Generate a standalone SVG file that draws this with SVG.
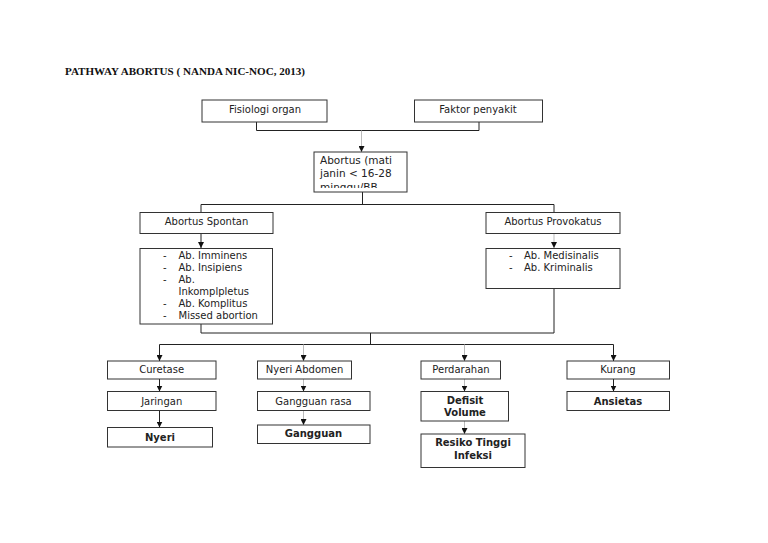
<svg xmlns="http://www.w3.org/2000/svg" width="768" height="543" viewBox="0 0 768 543">
<style>
.box{fill:#fff;stroke:#333;stroke-width:1}
.t{font-family:"DejaVu Sans","Verdana",sans-serif;font-size:10px;fill:#222}
.c{text-anchor:middle}
.b{font-weight:bold}
.ln{fill:none;stroke:#222;stroke-width:1}
.lg{fill:none;stroke:#bbb;stroke-width:1}
.title{font-family:"Liberation Serif","Times New Roman",serif;font-weight:bold;font-size:10.5px;fill:#111}
</style>
<defs>
<marker id="ah" markerUnits="userSpaceOnUse" markerWidth="6" markerHeight="6" viewBox="0 0 6 6" refX="6" refY="3" orient="auto">
<path d="M0,0 L6,3 L0,6 Z" fill="#111"/>
</marker>
<clipPath id="clipAb"><rect x="314" y="152" width="93" height="36"/></clipPath>
</defs>
<rect width="768" height="543" fill="#fff"/>
<text class="title" x="65" y="75" textLength="240" lengthAdjust="spacingAndGlyphs">PATHWAY ABORTUS ( NANDA NIC-NOC, 2013)</text>

<g id="connectors">
<path class="ln" d="M256.5,122 V130.5 H479 V122"/>
<path class="lg" d="M361.5,130.5 V152" marker-end="url(#ah)"/>
<path class="ln" d="M362.5,192 V204.5"/>
<path class="ln" d="M201,212.5 V204.5 H554 V212.5"/>
<path class="ln" d="M201,233.5 V248" marker-end="url(#ah)"/>
<path class="lg" d="M554,233.5 V248" marker-end="url(#ah)"/>
<path class="ln" d="M201,324 V333 H554 V288"/>
<path class="ln" d="M370.5,333 V344.5"/>
<path class="ln" d="M159.5,344.5 H613.5"/>
<path class="ln" d="M159.5,344.5 V361" marker-end="url(#ah)"/>
<path class="lg" d="M303.5,344.5 V361" marker-end="url(#ah)"/>
<path class="lg" d="M464.5,344.5 V361" marker-end="url(#ah)"/>
<path class="ln" d="M613.5,344.5 V361" marker-end="url(#ah)"/>
<path class="ln" d="M159.5,379 V391.5" marker-end="url(#ah)"/>
<path class="ln" d="M159.5,410.5 V427.5" marker-end="url(#ah)"/>
<path class="lg" d="M303.5,379 V391.5" marker-end="url(#ah)"/>
<path class="lg" d="M303.5,410.5 V425" marker-end="url(#ah)"/>
<path class="lg" d="M464.5,379 V391.5" marker-end="url(#ah)"/>
<path class="lg" d="M464.5,421 V434" marker-end="url(#ah)"/>
<path class="ln" d="M613.5,379 V391.5" marker-end="url(#ah)"/>
</g>

<g id="fisiologi">
<rect class="box" x="202" y="100" width="125" height="22"/>
<text class="t c" x="265" y="113">Fisiologi organ</text>
</g>
<g id="faktor">
<rect class="box" x="414.5" y="100" width="128" height="22"/>
<text class="t c" x="478" y="113">Faktor penyakit</text>
</g>
<g id="abortus">
<rect class="box" x="314" y="152" width="93" height="40"/>
<g clip-path="url(#clipAb)">
<text class="t" x="320" y="164" style="font-size:10.5px">Abortus (mati</text>
<text class="t" x="320" y="177.3" style="font-size:10.5px">janin &lt; 16-28</text>
<text class="t" x="320" y="190.6" style="font-size:10.5px">minggu/BB</text>
</g>
</g>
<g id="spontan">
<rect class="box" x="140" y="212.5" width="133" height="21"/>
<text class="t c" x="206.5" y="224.5">Abortus Spontan</text>
</g>
<g id="provokatus">
<rect class="box" x="486" y="212.5" width="134" height="21"/>
<text class="t c" x="553" y="224.5">Abortus Provokatus</text>
</g>
<g id="spontan-list">
<rect class="box" x="140" y="248.5" width="132.5" height="75.5"/>
<text class="t" x="163" y="258.5">-</text><text class="t" x="178.5" y="258.5">Ab. Imminens</text>
<text class="t" x="163" y="270.5">-</text><text class="t" x="178.5" y="270.5">Ab. Insipiens</text>
<text class="t" x="163" y="282.5">-</text><text class="t" x="178.5" y="282.5">Ab.</text>
<text class="t" x="178.5" y="294.5">Inkomplpletus</text>
<text class="t" x="163" y="306.8">-</text><text class="t" x="178.5" y="306.8">Ab. Komplitus</text>
<text class="t" x="163" y="319">-</text><text class="t" x="178.5" y="319">Missed abortion</text>
</g>
<g id="provokatus-list">
<rect class="box" x="486" y="248.5" width="134" height="40"/>
<text class="t" x="509" y="258.5">-</text><text class="t" x="524" y="258.5">Ab. Medisinalis</text>
<text class="t" x="509" y="270.5">-</text><text class="t" x="524" y="270.5">Ab. Kriminalis</text>
</g>
<g id="curetase">
<rect class="box" x="107.5" y="361" width="108.5" height="18"/>
<text class="t c" x="161.7" y="372.5">Curetase</text>
</g>
<g id="jaringan">
<rect class="box" x="107.5" y="391.5" width="108.5" height="19"/>
<text class="t c" x="161.7" y="404.5">Jaringan</text>
</g>
<g id="nyeri">
<rect class="box" x="107.5" y="427.5" width="105" height="19.5"/>
<text class="t c b" x="160" y="441">Nyeri</text>
</g>
<g id="nyeri-abdomen">
<rect class="box" x="257.5" y="361" width="94" height="18"/>
<text class="t c" x="304.5" y="372.5">Nyeri Abdomen</text>
</g>
<g id="gangguan-rasa">
<rect class="box" x="257.5" y="391.5" width="112.5" height="19"/>
<text class="t c" x="313.5" y="404.5">Gangguan rasa</text>
</g>
<g id="gangguan">
<rect class="box" x="257.5" y="425" width="112.5" height="18.5"/>
<text class="t c b" x="313.5" y="437">Gangguan</text>
</g>
<g id="perdarahan">
<rect class="box" x="421" y="361" width="79.5" height="18"/>
<text class="t c" x="461" y="372.5">Perdarahan</text>
</g>
<g id="defisit">
<rect class="box" x="421" y="391.5" width="87.5" height="29.5"/>
<text class="t c b" x="465" y="404">Defisit</text>
<text class="t c b" x="465" y="416">Volume</text>
</g>
<g id="resiko">
<rect class="box" x="421" y="434" width="104" height="33.5"/>
<text class="t c b" x="473" y="446">Resiko Tinggi</text>
<text class="t c b" x="473" y="458.5">Infeksi</text>
</g>
<g id="kurang">
<rect class="box" x="567" y="361" width="102.5" height="18"/>
<text class="t c" x="618" y="372.5">Kurang</text>
</g>
<g id="ansietas">
<rect class="box" x="567" y="391.5" width="102.5" height="19"/>
<text class="t c b" x="618" y="404.5">Ansietas</text>
</g>
</svg>
